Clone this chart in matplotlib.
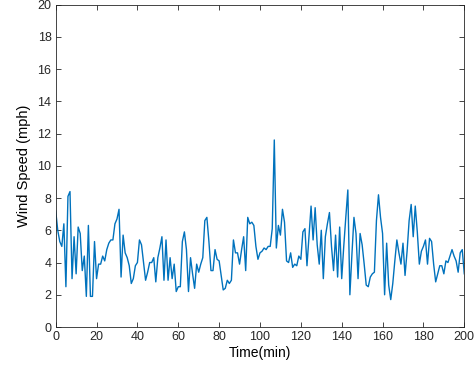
import numpy as np
import matplotlib
matplotlib.use("Agg")
import matplotlib.pyplot as plt

plt.rcParams['font.family'] = ['Liberation Sans', 'DejaVu Sans']

# wind speed, one reading per minute (0..200)
minutes = np.arange(0, 201)
wind_speed = [
	7.2, 6.0, 5.3, 5.0, 6.4, 2.5, 8.1, 8.4, 3.0, 5.6,
	3.3, 6.2, 5.8, 3.5, 4.4, 1.9, 6.3, 1.9, 1.9, 5.3,
	3.0, 3.9, 3.9, 4.4, 4.1, 4.8, 5.2, 5.4, 5.4, 6.4,
	6.7, 7.3, 3.1, 5.7, 4.6, 4.3, 3.8, 2.7, 3.0, 3.8,
	4.0, 5.4, 5.1, 4.0, 2.9, 3.4, 4.0, 4.0, 4.3, 2.8,
	4.3, 4.9, 5.6, 2.9, 5.4, 2.9, 4.3, 3.0, 3.9, 2.2,
	2.5, 2.5, 5.3, 5.9, 4.8, 2.2, 4.3, 3.3, 2.4, 3.9,
	3.4, 3.9, 4.3, 6.6, 6.8, 5.3, 3.5, 3.5, 4.8, 4.2,
	4.1, 3.2, 2.3, 2.4, 2.9, 2.7, 2.9, 5.4, 4.6, 4.6,
	3.9, 4.8, 5.6, 3.5, 6.8, 6.4, 6.5, 6.3, 5.0, 4.2,
	4.6, 4.7, 4.9, 4.8, 5.0, 5.0, 6.1, 11.6, 4.9, 6.3,
	5.7, 7.3, 6.5, 4.1, 4.0, 4.6, 3.7, 3.9, 3.8, 4.4,
	4.2, 5.9, 6.1, 3.8, 5.7, 7.5, 5.4, 7.4, 5.1, 3.9,
	6.0, 3.0, 5.6, 6.4, 7.1, 5.0, 3.5, 5.7, 3.1, 6.2,
	3.0, 5.0, 6.8, 8.5, 2.0, 4.5, 6.8, 5.8, 3.0, 5.8,
	5.1, 3.9, 2.6, 2.5, 3.1, 3.3, 3.4, 6.6, 8.2, 6.8,
	5.8, 2.0, 5.2, 2.6, 1.7, 2.7, 4.1, 5.4, 4.6, 3.9,
	5.2, 3.2, 4.7, 6.6, 7.6, 5.6, 7.5, 5.9, 3.9, 4.7,
	5.0, 5.4, 3.9, 5.5, 5.3, 3.9, 2.8, 3.3, 3.8, 3.8,
	3.3, 4.1, 4.0, 4.4, 4.8, 4.4, 4.1, 3.4, 4.6, 4.8,
	3.3,
]
x_ticks = np.arange(0, 201, 20)
y_ticks = np.arange(0, 21, 2)

fig = plt.figure(figsize=(4.74, 3.86), dpi=100)
ax = fig.add_axes([0.1175, 0.1528, 0.862, 0.8355])

ax.plot(minutes, wind_speed, color='#0072BD', linewidth=1.0)

ax.set_xlim(0, 200)
ax.set_ylim(0, 20)
ax.set_xticks(x_ticks)
ax.set_yticks(y_ticks)
ax.tick_params(direction='in', length=3.5, width=0.6, labelsize=9,
	colors='#262626', top=True, right=True, pad=3)
for s in ax.spines.values():
	s.set_linewidth(0.6)
	s.set_color('#262626')

ax.set_xlabel('Time(min)', fontsize=10, color='#000000', labelpad=2)
ax.set_ylabel('Wind Speed (mph)', fontsize=10.5, color='#000000', labelpad=5)

fig.savefig('out.png', dpi=100)
